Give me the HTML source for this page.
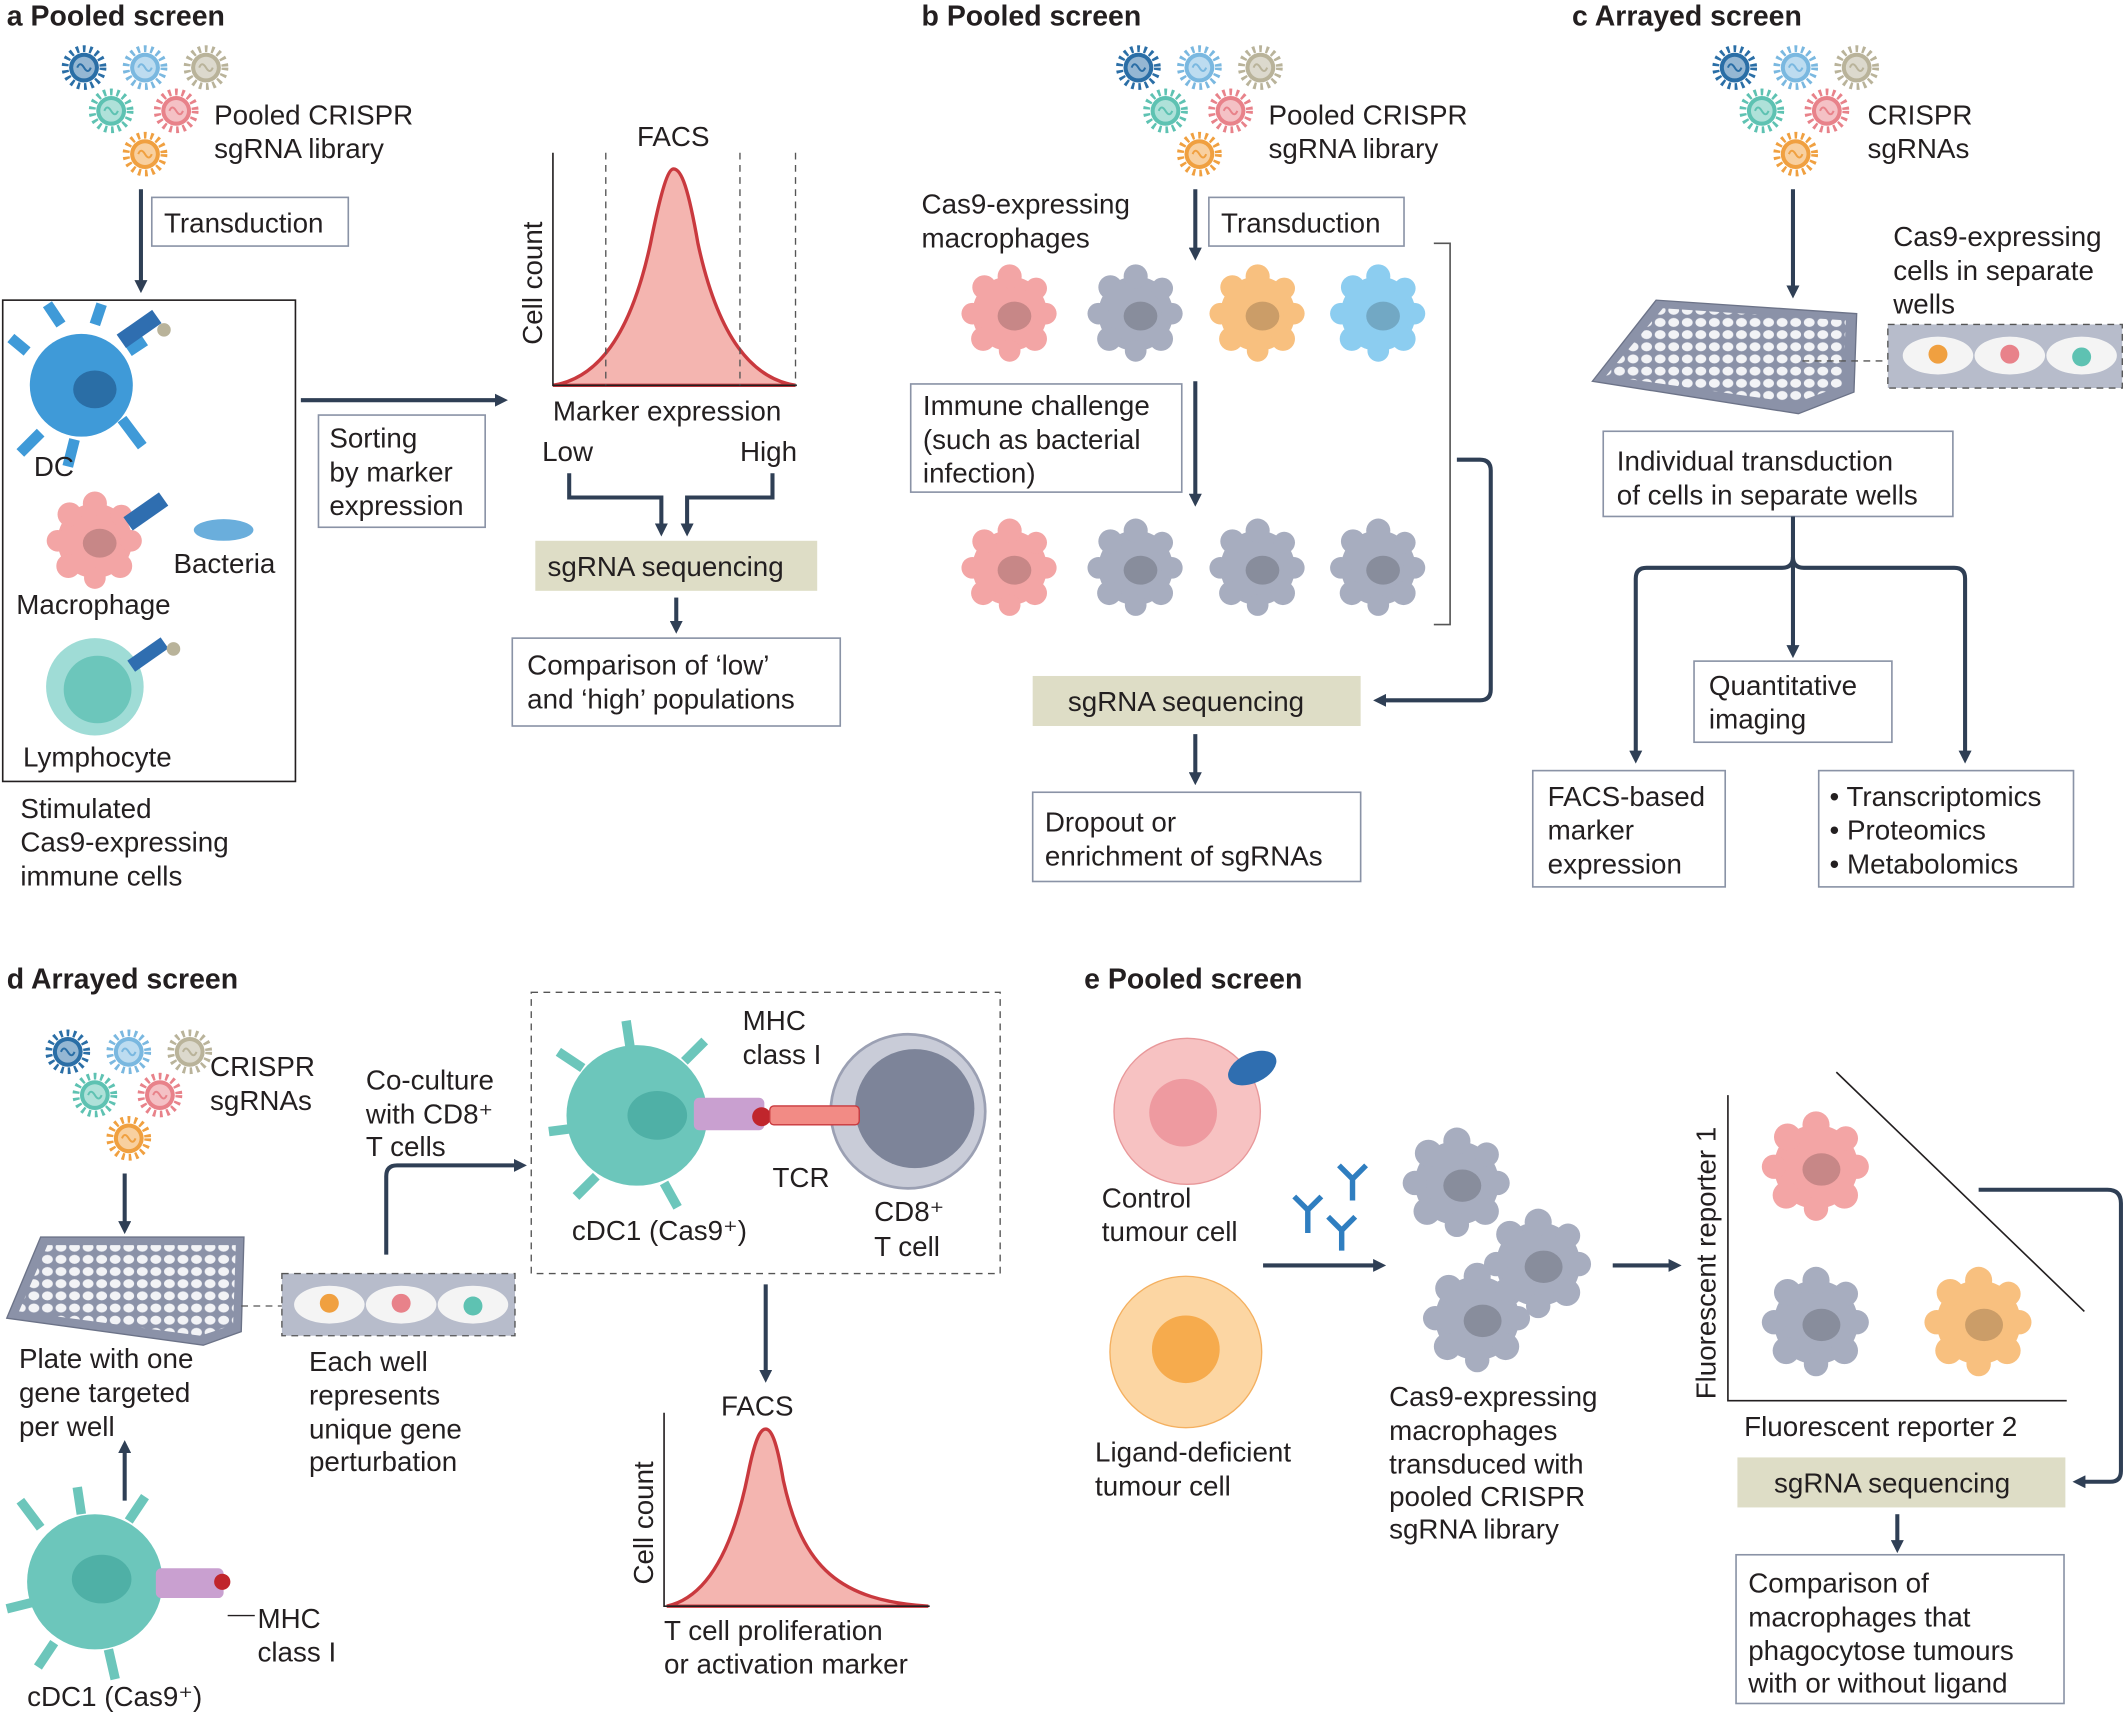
<!DOCTYPE html>
<html><head><meta charset="utf-8"><style>
html,body{margin:0;padding:0;background:#fff}
svg{display:block}
text{font-family:"Liberation Sans",sans-serif;font-size:20.5px;fill:#231f20}
.t{font-weight:bold;font-size:21px}
.bx{fill:#fff;stroke:#8a93a6;stroke-width:1.2}
.sq{fill:#deddc6}
.ar{stroke:#2f3f55;stroke-width:3;fill:none}
</style></head><body>
<svg width="2125" height="1717" viewBox="0 0 1568 1270" preserveAspectRatio="none" xmlns="http://www.w3.org/2000/svg">
<defs>
<marker id="ah" viewBox="0 0 10 10" refX="5" refY="5" markerWidth="3.2" markerHeight="3.2" orient="auto"><path d="M0,0L10,5L0,10z" fill="#2f3f55"/></marker>
<pattern id="wl" width="10" height="9" patternUnits="userSpaceOnUse"><rect width="10" height="9" fill="#8b92a8"/><ellipse cx="5" cy="4.5" rx="4" ry="3.3" fill="#f2f3f6"/></pattern>
<symbol id="v" viewBox="-20 -20 40 40" overflow="visible">
<circle r="14" fill="none" stroke="currentColor" stroke-width="5" stroke-dasharray="2 3"/>
<circle r="11" fill="currentColor"/><circle r="8" fill="#fff" opacity=".5"/><path d="M-5,0q2,-5 5,0t5,0" stroke="currentColor" stroke-width="1.5" fill="none"/></symbol>
<symbol id="m" viewBox="-45 -45 90 90" overflow="visible">
<g fill="currentColor"><circle r="31"/><circle cx="30" cy="0" r="9"/><circle cx="21" cy="21" r="10"/><circle cx="0" cy="31" r="9"/><circle cx="-22" cy="21" r="10"/><circle cx="-31" cy="0" r="9"/><circle cx="-21" cy="-22" r="10"/><circle cx="0" cy="-31" r="10"/><circle cx="22" cy="-21" r="9"/></g>
<ellipse cx="4" cy="2" rx="14" ry="12" fill="#000" opacity=".18"/></symbol>
<symbol id="vc" viewBox="0 0 130 100" overflow="visible">
<use href="#v" x="0" y="0" width="40" height="40" color="#2a6ea6"/>
<use href="#v" x="45" y="0" width="40" height="40" color="#7ab8e0"/>
<use href="#v" x="90" y="0" width="40" height="40" color="#b9b39a"/>
<use href="#v" x="20" y="32" width="40" height="40" color="#5ec2b2"/>
<use href="#v" x="68" y="32" width="40" height="40" color="#e8828a"/>
<use href="#v" x="45" y="64" width="40" height="40" color="#f0a040"/>
</symbol>
</defs>

<!-- panel a -->
<text x="5" y="19" class="t">a  Pooled screen</text>
<use href="#vc" x="42" y="30" width="130" height="100"/>
<text x="158" y="92">Pooled CRISPR</text><text x="158" y="117">sgRNA library</text>
<line x1="104" y1="140" x2="104" y2="212" class="ar" marker-end="url(#ah)"/>
<rect x="112" y="146" width="145" height="36" class="bx"/><text x="121" y="172">Transduction</text>
<rect x="2" y="222" width="216" height="356" fill="none" stroke="#231f20" stroke-width="1.2"/>
<g fill="#3f9ad8"><circle cx="60" cy="285" r="38"/><path d="M20,260l-12,-10M30,320l-15,15M55,325l-5,20M90,310l15,20M45,240l-10,-15M70,240l5,-15M95,260l12,-8" stroke="#3f9ad8" stroke-width="8"/></g>
<ellipse cx="70" cy="288" rx="16" ry="14" fill="#2a6ea6"/>
<rect x="90" y="240" width="32" height="12" fill="#2f6eb0" transform="rotate(-35 100 250)"/>
<circle cx="121" cy="244" r="5" fill="#b9b39a"/>
<text x="25" y="352">DC</text>
<use href="#m" x="30" y="360" width="80" height="80" color="#f3a5a5"/>
<rect x="95" y="375" width="32" height="12" fill="#2f6eb0" transform="rotate(-35 105 385)"/>
<ellipse cx="165" cy="392" rx="22" ry="8" fill="#6aaedc"/>
<text x="128" y="424">Bacteria</text><text x="12" y="454">Macrophage</text>
<circle cx="70" cy="508" r="36" fill="#9fdcd6"/><circle cx="72" cy="510" r="25" fill="#6cc6bb"/>
<rect x="95" y="482" width="30" height="10" fill="#2f6eb0" transform="rotate(-35 105 487)"/><circle cx="128" cy="480" r="5" fill="#b9b39a"/>
<text x="17" y="567">Lymphocyte</text>
<text x="15" y="605">Stimulated</text><text x="15" y="630">Cas9-expressing</text><text x="15" y="655">immune cells</text>
<line x1="222" y1="296" x2="370" y2="296" class="ar" marker-end="url(#ah)"/>
<rect x="235" y="307" width="123" height="83" class="bx"/>
<text x="243" y="331">Sorting</text><text x="243" y="356">by marker</text><text x="243" y="381">expression</text>
<text x="470" y="108">FACS</text>
<text x="0" y="0" transform="translate(400,255) rotate(-90)">Cell count</text>
<path d="M408,285 C440,280 465,250 480,180 C488,140 493,125 497,125 C503,125 508,140 515,180 C530,250 555,280 587,285 Z" fill="#f4b5b0" stroke="#c9393e" stroke-width="2.5"/>
<path d="M408,113V285H588" stroke="#231f20" stroke-width="1.2" fill="none"/>
<g stroke="#555" stroke-dasharray="5 4"><line x1="447" y1="113" x2="447" y2="285"/><line x1="546" y1="113" x2="546" y2="285"/><line x1="587" y1="113" x2="587" y2="285"/></g>
<text x="408" y="311">Marker expression</text>
<text x="400" y="341">Low</text><text x="546" y="341">High</text>
<path d="M420,350V368H488V392" class="ar" marker-end="url(#ah)"/>
<path d="M570,350V368H507V392" class="ar" marker-end="url(#ah)"/>
<rect x="395" y="400" width="208" height="37" class="sq"/><text x="404" y="426">sgRNA sequencing</text>
<line x1="499" y1="442" x2="499" y2="464" class="ar" marker-end="url(#ah)"/>
<rect x="378" y="472" width="242" height="65" class="bx"/>
<text x="389" y="499">Comparison of ‘low’</text><text x="389" y="524">and ‘high’ populations</text>

<!-- panel b -->
<text x="680" y="19" class="t">b  Pooled screen</text>
<use href="#vc" x="820" y="30" width="130" height="100"/>
<text x="936" y="92">Pooled CRISPR</text><text x="936" y="117">sgRNA library</text>
<text x="680" y="158">Cas9-expressing</text><text x="680" y="183">macrophages</text>
<line x1="882" y1="140" x2="882" y2="188" class="ar" marker-end="url(#ah)"/>
<rect x="892" y="146" width="144" height="36" class="bx"/><text x="901" y="172">Transduction</text>
<use href="#m" x="705" y="192" width="80" height="80" color="#f3a5a5"/>
<use href="#m" x="798" y="192" width="80" height="80" color="#a7adbf"/>
<use href="#m" x="888" y="192" width="80" height="80" color="#f8c07f"/>
<use href="#m" x="977" y="192" width="80" height="80" color="#8ccdf0"/>
<path d="M1058,180H1070V462H1058" fill="none" stroke="#555" stroke-width="1.2"/>
<rect x="672" y="284" width="200" height="80" class="bx"/>
<text x="681" y="307">Immune challenge</text><text x="681" y="332">(such as bacterial</text><text x="681" y="357">infection)</text>
<line x1="882" y1="282" x2="882" y2="370" class="ar" marker-end="url(#ah)"/>
<use href="#m" x="705" y="380" width="80" height="80" color="#f3a5a5"/>
<use href="#m" x="798" y="380" width="80" height="80" color="#a7adbf"/>
<use href="#m" x="888" y="380" width="80" height="80" color="#a7adbf"/>
<use href="#m" x="977" y="380" width="80" height="80" color="#a7adbf"/>
<path d="M1075,340H1092Q1100,340 1100,348V510Q1100,518 1092,518H1018" class="ar" marker-end="url(#ah)"/>
<rect x="762" y="500" width="242" height="37" class="sq"/><text x="788" y="526">sgRNA sequencing</text>
<line x1="882" y1="543" x2="882" y2="576" class="ar" marker-end="url(#ah)"/>
<rect x="762" y="586" width="242" height="66" class="bx"/>
<text x="771" y="615">Dropout or</text><text x="771" y="640">enrichment of sgRNAs</text>

<!-- panel c -->
<text x="1160" y="19" class="t">c  Arrayed screen</text>
<use href="#vc" x="1260" y="30" width="130" height="100"/>
<text x="1378" y="92">CRISPR</text><text x="1378" y="117">sgRNAs</text>
<line x1="1323" y1="140" x2="1323" y2="216" class="ar" marker-end="url(#ah)"/>
<path d="M1175,282L1222,222L1370,232L1368,290L1327,306Z" fill="#8b92a8" stroke="#6c7388"/>
<path d="M1185,278L1227,228L1362,237L1360,285L1325,298Z" fill="url(#wl)"/>
<text x="1397" y="182">Cas9-expressing</text><text x="1397" y="207">cells in separate</text><text x="1397" y="232">wells</text>
<line x1="1330" y1="267" x2="1393" y2="267" stroke="#555" stroke-dasharray="5 4"/>
<rect x="1393" y="240" width="173" height="47" fill="#b7bccb" stroke="#555" stroke-dasharray="5 4"/>
<ellipse cx="1430" cy="263" rx="26" ry="14" fill="#f4f4f4"/><ellipse cx="1483" cy="263" rx="26" ry="14" fill="#f4f4f4"/><ellipse cx="1536" cy="263" rx="26" ry="14" fill="#f4f4f4"/>
<circle cx="1430" cy="262" r="7" fill="#f0a040"/><circle cx="1483" cy="262" r="7" fill="#e8828a"/><circle cx="1536" cy="264" r="7" fill="#5ec2b2"/>
<rect x="1183" y="319" width="258" height="63" class="bx"/>
<text x="1193" y="348">Individual transduction</text><text x="1193" y="373">of cells in separate wells</text>
<path d="M1323,382V412Q1323,420 1315,420H1215Q1207,420 1207,428V560" class="ar" marker-end="url(#ah)"/>
<path d="M1323,412Q1323,420 1331,420H1442Q1450,420 1450,428V560" class="ar" marker-end="url(#ah)"/>
<line x1="1323" y1="412" x2="1323" y2="482" class="ar" marker-end="url(#ah)"/>
<rect x="1250" y="489" width="146" height="60" class="bx"/><text x="1261" y="514">Quantitative</text><text x="1261" y="539">imaging</text>
<rect x="1131" y="570" width="142" height="86" class="bx"/><text x="1142" y="596">FACS-based</text><text x="1142" y="621">marker</text><text x="1142" y="646">expression</text>
<rect x="1342" y="570" width="188" height="86" class="bx"/><text x="1350" y="596">• Transcriptomics</text><text x="1350" y="621">• Proteomics</text><text x="1350" y="646">• Metabolomics</text>

<!-- panel d -->
<text x="5" y="731" class="t">d  Arrayed screen</text>
<use href="#vc" x="30" y="758" width="130" height="100"/>
<text x="155" y="796">CRISPR</text><text x="155" y="821">sgRNAs</text>
<line x1="92" y1="868" x2="92" y2="908" class="ar" marker-end="url(#ah)"/>
<path d="M5,975L30,915H180L178,985L150,995Z" fill="#8b92a8" stroke="#6c7388"/>
<path d="M14,970L35,921H174L172,980L148,988Z" fill="url(#wl)"/>
<line x1="178" y1="966" x2="208" y2="966" stroke="#555" stroke-dasharray="5 4"/>
<rect x="208" y="942" width="172" height="46" fill="#b7bccb" stroke="#555" stroke-dasharray="5 4"/>
<ellipse cx="243" cy="965" rx="26" ry="14" fill="#f4f4f4"/><ellipse cx="296" cy="965" rx="26" ry="14" fill="#f4f4f4"/><ellipse cx="349" cy="965" rx="26" ry="14" fill="#f4f4f4"/>
<circle cx="243" cy="964" r="7" fill="#f0a040"/><circle cx="296" cy="964" r="7" fill="#e8828a"/><circle cx="349" cy="966" r="7" fill="#5ec2b2"/>
<text x="14" y="1012">Plate with one</text><text x="14" y="1037">gene targeted</text><text x="14" y="1062">per well</text>
<text x="228" y="1014">Each well</text><text x="228" y="1039">represents</text><text x="228" y="1064">unique gene</text><text x="228" y="1088">perturbation</text>
<line x1="92" y1="1110" x2="92" y2="1070" class="ar" marker-end="url(#ah)"/>
<g fill="#6cc6bb" stroke="#6cc6bb" stroke-width="7"><circle cx="70" cy="1170" r="50" stroke="none"/><path d="M30,1130l-15,-20M60,1120l-3,-20M95,1125l12,-18M25,1185l-20,5M40,1215l-12,18M80,1220l5,22"/></g>
<ellipse cx="75" cy="1168" rx="22" ry="18" fill="#4fb0a6"/>
<rect x="115" y="1160" width="50" height="22" rx="4" fill="#c9a0d0"/><circle cx="164" cy="1170" r="6" fill="#c0262c"/>
<line x1="168" y1="1195" x2="188" y2="1195" stroke="#231f20"/>
<text x="190" y="1204">MHC</text><text x="190" y="1229">class I</text>
<text x="20" y="1262">cDC1 (Cas9⁺)</text>
<path d="M285,928V870Q285,862 293,862H384" class="ar" marker-end="url(#ah)"/>
<text x="270" y="806">Co-culture</text><text x="270" y="831">with CD8⁺</text><text x="270" y="855">T cells</text>
<rect x="392" y="734" width="346" height="208" fill="none" stroke="#555" stroke-dasharray="5 4"/>
<g fill="#6cc6bb" stroke="#6cc6bb" stroke-width="7"><circle cx="470" cy="825" r="52" stroke="none"/><path d="M430,790l-18,-12M465,775l-3,-20M505,785l15,-15M420,835l-15,2M440,870l-15,15M490,875l10,18"/></g>
<ellipse cx="485" cy="825" rx="22" ry="18" fill="#4fb0a6"/>
<circle cx="670" cy="822" r="57" fill="#c9ccd8" stroke="#9ba0b3" stroke-width="2"/><circle cx="675" cy="820" r="44" fill="#7d8499"/>
<rect x="512" y="812" width="52" height="24" rx="4" fill="#c9a0d0"/><circle cx="562" cy="826" r="7" fill="#c0262c"/>
<rect x="568" y="818" width="66" height="14" rx="3" fill="#f28b85" stroke="#c9393e"/>
<text x="548" y="762">MHC</text><text x="548" y="787">class I</text>
<text x="570" y="878">TCR</text><text x="422" y="917">cDC1 (Cas9⁺)</text>
<text x="645" y="903">CD8⁺</text><text x="645" y="929">T cell</text>
<line x1="565" y1="950" x2="565" y2="1018" class="ar" marker-end="url(#ah)"/>
<text x="532" y="1047">FACS</text>
<text x="0" y="0" transform="translate(482,1172) rotate(-90)">Cell count</text>
<path d="M492,1188 C520,1182 540,1150 552,1090 C558,1060 562,1057 565,1057 C569,1057 573,1065 578,1095 C592,1160 620,1184 685,1188 Z" fill="#f4b5b0" stroke="#c9393e" stroke-width="2.5"/>
<path d="M490,1045V1188H686" stroke="#231f20" stroke-width="1.2" fill="none"/>
<text x="490" y="1213">T cell proliferation</text><text x="490" y="1238">or activation marker</text>

<!-- panel e -->
<text x="800" y="731" class="t">e  Pooled screen</text>
<circle cx="876" cy="822" r="54" fill="#f7c2c2" stroke="#e8989a"/><circle cx="873" cy="823" r="25" fill="#ee9aa0"/>
<ellipse cx="924" cy="790" rx="19" ry="11" fill="#2f6eb0" transform="rotate(-25 924 790)"/>
<text x="813" y="893">Control</text><text x="813" y="918">tumour cell</text>
<circle cx="875" cy="1000" r="56" fill="#fcd6a3" stroke="#f4b060"/><circle cx="875" cy="998" r="25" fill="#f6ab4d"/>
<text x="808" y="1081">Ligand-deficient</text><text x="808" y="1106">tumour cell</text>
<g stroke="#2f7ec0" stroke-width="4" fill="none"><path d="M965,912V895L955,885M965,895L975,885"/><path d="M998,888V872L988,862M998,872L1008,862"/><path d="M990,925V910L980,900M990,910L1000,900"/></g>
<line x1="932" y1="936" x2="1018" y2="936" class="ar" marker-end="url(#ah)"/>
<use href="#m" x="1030" y="830" width="90" height="90" color="#a7adbf"/>
<use href="#m" x="1090" y="890" width="90" height="90" color="#a7adbf"/>
<use href="#m" x="1045" y="930" width="90" height="90" color="#a7adbf"/>
<text x="1025" y="1040">Cas9-expressing</text><text x="1025" y="1065">macrophages</text><text x="1025" y="1090">transduced with</text><text x="1025" y="1114">pooled CRISPR</text><text x="1025" y="1138">sgRNA library</text>
<line x1="1190" y1="936" x2="1236" y2="936" class="ar" marker-end="url(#ah)"/>
<path d="M1275,810V1036H1525" stroke="#231f20" stroke-width="1.2" fill="none"/>
<line x1="1355" y1="793" x2="1538" y2="970" stroke="#231f20" stroke-width="1.2"/>
<use href="#m" x="1295" y="818" width="90" height="90" color="#f3a5a5"/>
<use href="#m" x="1295" y="933" width="90" height="90" color="#a7adbf"/>
<use href="#m" x="1415" y="933" width="90" height="90" color="#f8c07f"/>
<text x="0" y="0" transform="translate(1266,1035) rotate(-90)">Fluorescent reporter 1</text>
<text x="1287" y="1062">Fluorescent reporter 2</text>
<path d="M1460,880H1555Q1565,880 1565,890V1088Q1565,1096 1557,1096H1534" class="ar" marker-end="url(#ah)"/>
<rect x="1282" y="1078" width="242" height="37" class="sq"/><text x="1309" y="1104">sgRNA sequencing</text>
<line x1="1400" y1="1120" x2="1400" y2="1144" class="ar" marker-end="url(#ah)"/>
<rect x="1281" y="1150" width="242" height="110" class="bx"/>
<text x="1290" y="1178">Comparison of</text><text x="1290" y="1203">macrophages that</text><text x="1290" y="1228">phagocytose tumours</text><text x="1290" y="1252">with or without ligand</text>
</svg>
</body></html>
